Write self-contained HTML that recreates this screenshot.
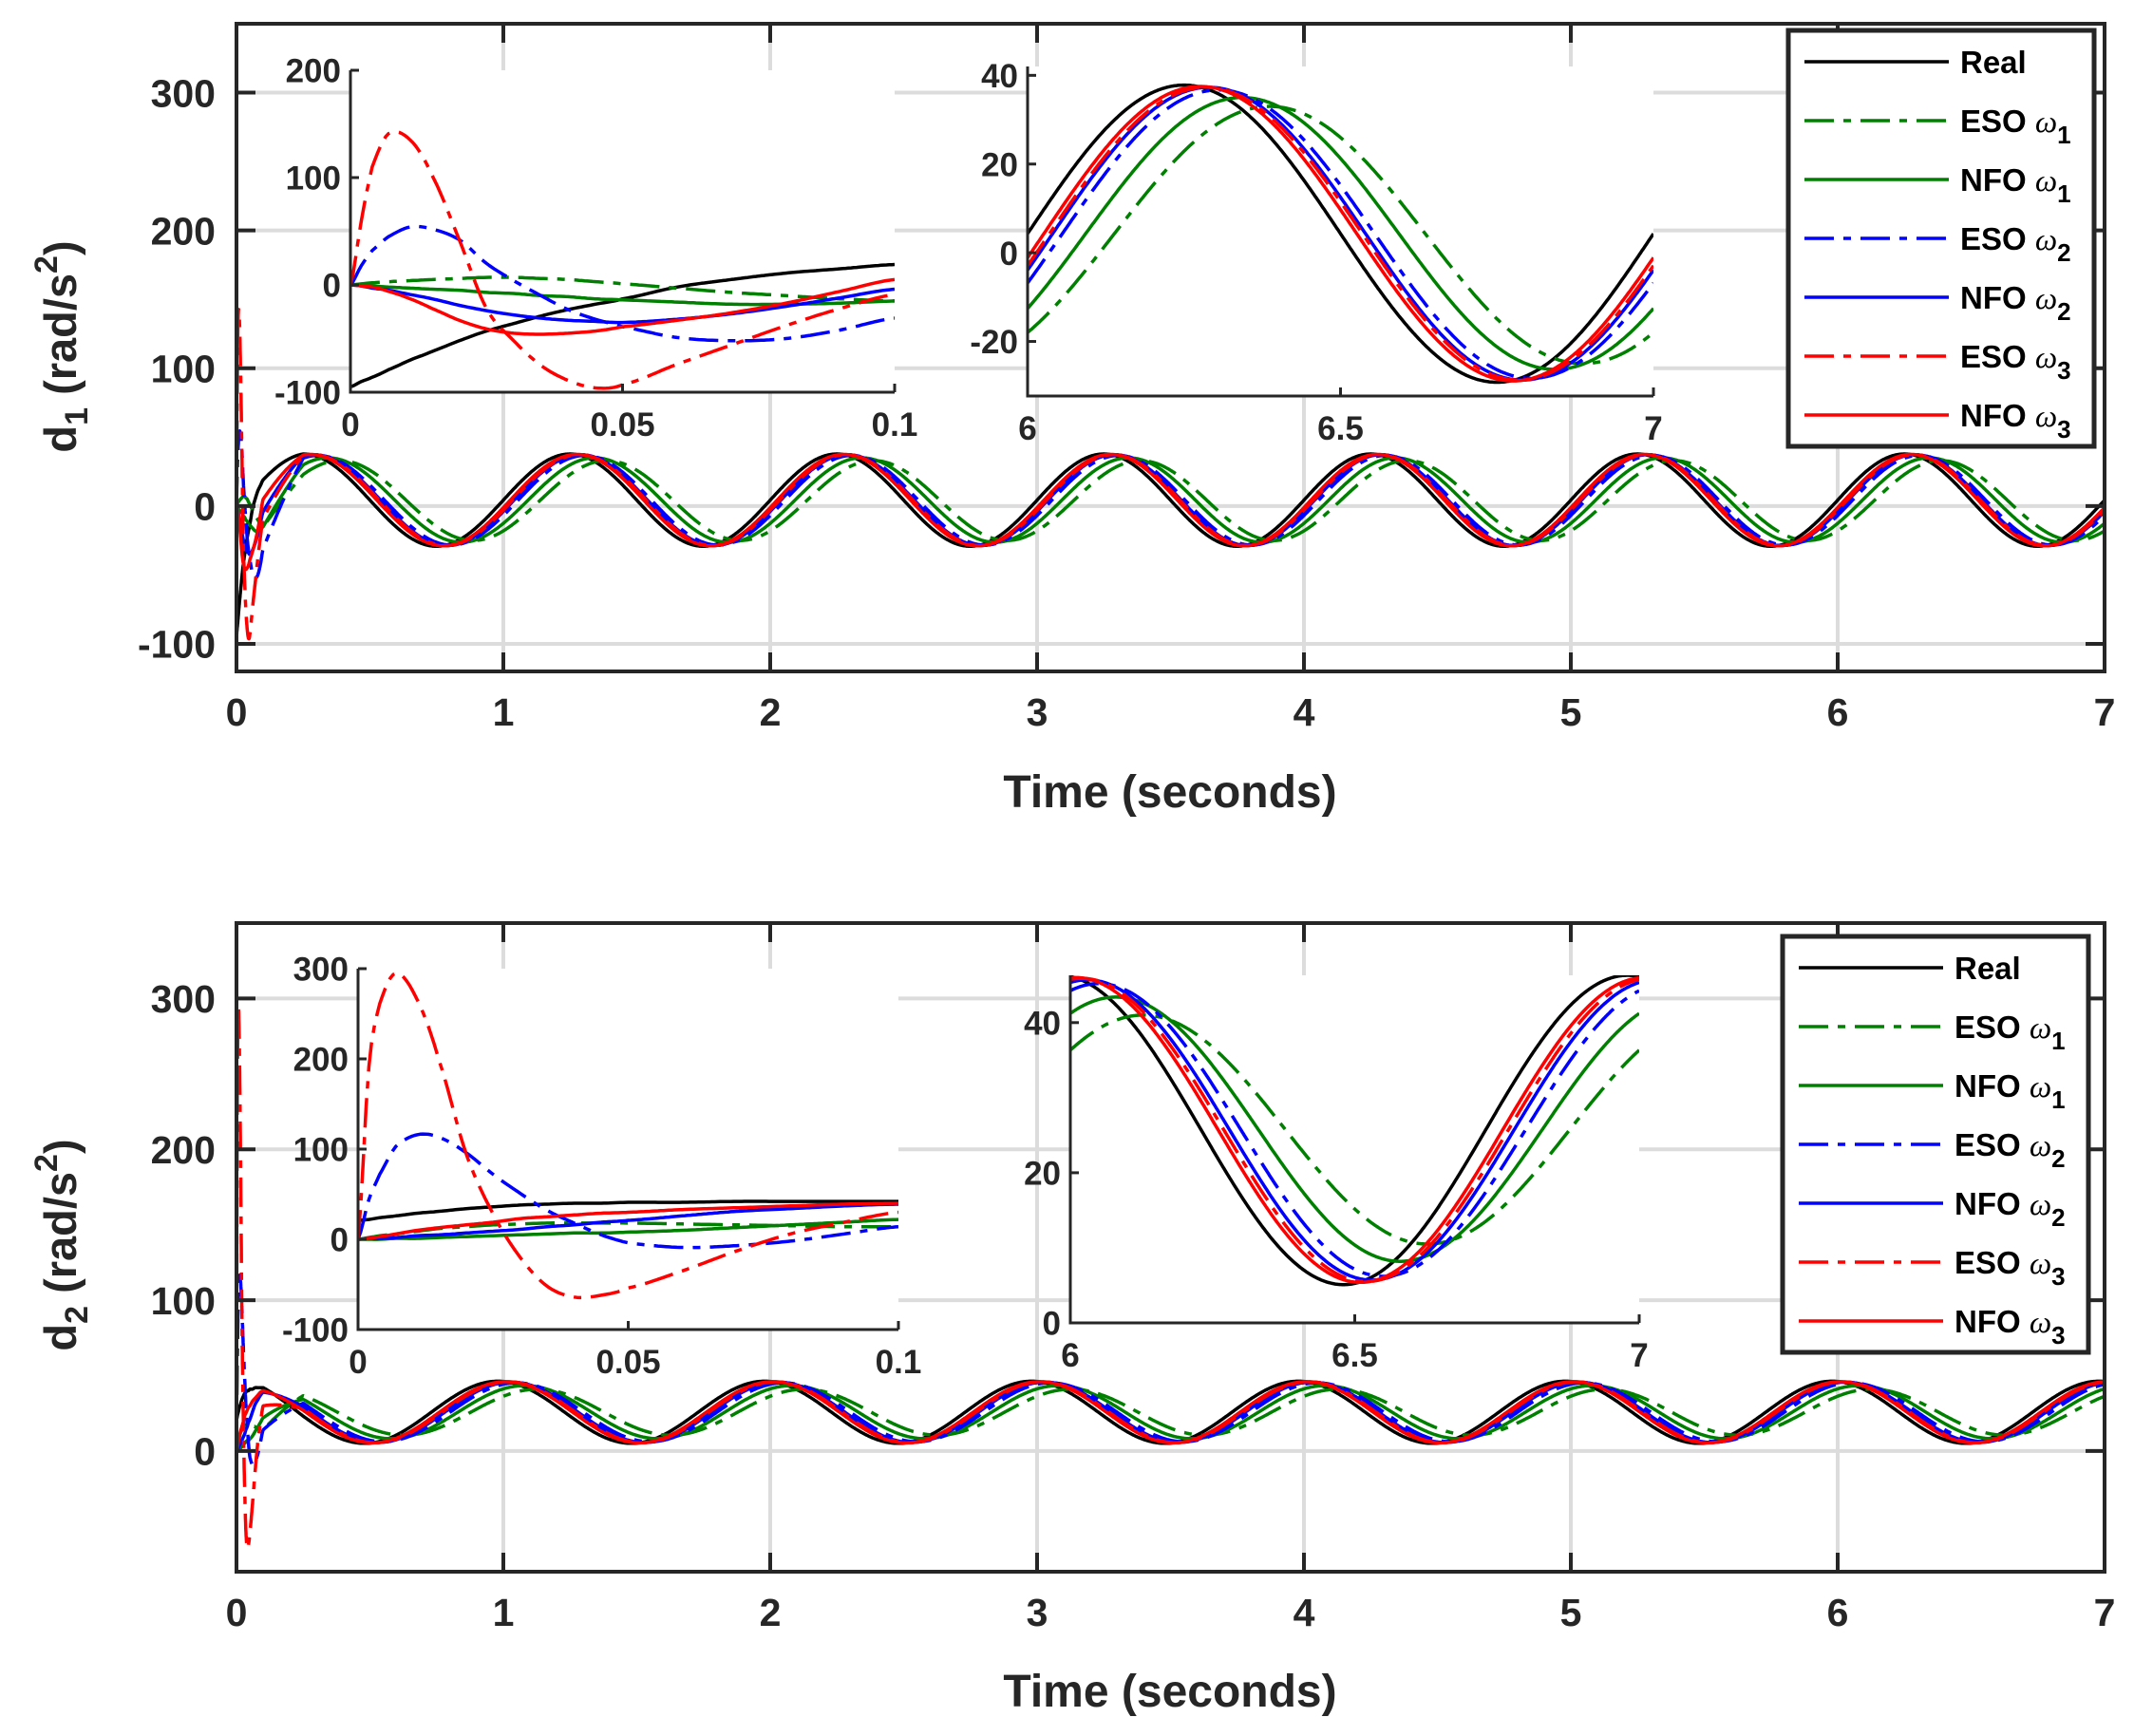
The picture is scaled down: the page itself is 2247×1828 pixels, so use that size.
<!DOCTYPE html>
<html><head><meta charset="utf-8"><title>Disturbance estimates d1, d2</title>
<style>
html,body{margin:0;padding:0;background:#fff;}
svg{display:block;font-family:"Liberation Sans",Arial,sans-serif;}
</style></head>
<body>
<svg id="fig" width="2247" height="1828" viewBox="0 0 2247 1828" xmlns="http://www.w3.org/2000/svg">
<rect x="0" y="0" width="2247" height="1828" fill="#fff"/>
<defs id="defs"></defs>
<g id="layer"></g>
</svg>
<script>
// ---------- data ----------
const seriesNames = ['Real','ESO ω1','NFO ω1','ESO ω2','NFO ω2','ESO ω3','NFO ω3'];
const transT = [0,0.002,0.004,0.007,0.011,0.015,0.02,0.025,0.03,0.035,0.04,0.045,0.05,0.06,0.07,0.08,0.09,0.1];
const d1TransReal = [-95,-90,-86,-79,-70,-62,-52,-43,-36,-29,-23,-18,-13,-2,5,11,15,19];
const d1TransEso1 = [0,1,2,3,4,5,6,7,7,6,5,3,1,-3,-7,-10,-13,-15];
const d1TransNfo1 = [0,-0.5,-1,-2,-3,-4,-5,-7,-8,-10,-11,-13,-14,-16,-18,-18,-17,-15];
const d1TransEso2 = [0,18,32,45,54,52,42,20,4,-10,-23,-32,-39,-49,-52,-50,-42,-31];
const d1TransNfo2 = [0,-1,-3,-5,-9,-13,-19,-24,-28,-31,-33,-34,-35,-32,-27,-20,-12,-4];
const d1TransEso3 = [0,60,110,141,135,102,42,-22,-52,-75,-89,-96,-93,-74,-56,-38,-22,-9];
const d1TransNfo3 = [0,-1,-2,-6,-13,-22,-33,-41,-45,-46,-45,-43,-39,-33,-26,-17,-6,5];
const d2TransReal = [21,22,24,26,29,31,34,36,38,39,40,40,41,41,42,42,42,42];
const d2TransEso1 = [0,2,4,6,9,12,14,16,17,18,18,18,18,17,16,15,14,14];
const d2TransNfo1 = [0,0,0,1,1,2,3,4,5,6,7,7,8,10,13,16,19,22];
const d2TransEso2 = [0,44,72,103,116,113,96,72,51,32,18,5,-4,-9,-7,-2,6,14];
const d2TransNfo2 = [0,1,1,2,4,5,7,9,11,14,16,19,21,26,31,34,37,39];
const d2TransEso3 = [0,191,261,295,265,198,95,28,-20,-52,-64,-62,-54,-35,-13,6,19,30];
const d2TransNfo3 = [0,1,3,6,10,13,16,19,23,25,27,29,30,33,35,37,39,40];
const d1Mean = [4.3, 4.0, 4.35, 4.2, 4.3, 4.3, 4.3];
const d1Amp  = [33.5, 29, 30.65, 32.5, 33, 33, 33.2];
const d1Peak = [0.25, 0.387, 0.343, 0.305, 0.29, 0.285, 0.276];
const d2Mean = [25.7, 25.75, 25.8, 25.7, 25.7, 25.7, 25.7];
const d2Amp  = [20.6, 15.25, 17.6, 19.5, 20, 20.2, 20.3];
const d2Peak = [0.98, 0.128, 0.08, 0.05, 0.03, 0.02, 0.01];
const mainXTicks = [0,1,2,3,4,5,6,7];
const top1YTicks = [-100,0,100,200,300];
const bot1YTicks = [0,100,200,300];
const insAXTicks = [0,0.05,0.1];
const insAXLabels = ['0','0.05','0.1'];
const insBXTicks = [6,6.5,7];
const insBXLabels = ['6','6.5','7'];
const topInsAYTicks = [-100,0,100,200];
const topInsBYTicks = [-20,0,20,40];
const botInsAYTicks = [-100,0,100,200,300];
const botInsBYTicks = [0,20,40];

const NS='http://www.w3.org/2000/svg';
const layer=document.getElementById('layer');
const defs=document.getElementById('defs');
function mk(tag,attrs,parent){const e=document.createElementNS(NS,tag);for(const k in attrs)e.setAttribute(k,attrs[k]);(parent||layer).appendChild(e);return e;}
const DASH='31 10 8 10';
const styles=[{c:'#000000',d:null},{c:'#008000',d:DASH},{c:'#008000',d:null},{c:'#0000ff',d:DASH},{c:'#0000ff',d:null},{c:'#ff0000',d:DASH},{c:'#ff0000',d:null}];
const AX='#262626';

function evalTrans(arr,t){
  const n=transT.length;
  if(t<=transT[0])return arr[0];
  if(t>=transT[n-1])return arr[n-1];
  let i=0;while(i<n-2&&t>transT[i+1])i++;
  const u=(t-transT[i])/(transT[i+1]-transT[i]);
  const p0=arr[Math.max(0,i-1)],p1=arr[i],p2=arr[i+1],p3=arr[Math.min(n-1,i+2)];
  const u2=u*u,u3=u2*u;
  return 0.5*((2*p1)+(-p0+p2)*u+(2*p0-5*p1+4*p2-p3)*u2+(-p0+3*p1-3*p2+p3)*u3);
}
function model(m,a,p,t){return m+a*Math.cos(2*Math.PI*(t-p));}
function evalSeries(trans,m,a,p,t){
  if(t<=0.1)return evalTrans(trans,t);
  const diff=trans[trans.length-1]-model(m,a,p,0.1);
  const w=Math.max(0,1-(t-0.1)/0.15);
  return model(m,a,p,t)+diff*w;
}
const d1Trans=[d1TransReal,d1TransEso1,d1TransNfo1,d1TransEso2,d1TransNfo2,d1TransEso3,d1TransNfo3];
const d2Trans=[d2TransReal,d2TransEso1,d2TransNfo1,d2TransEso2,d2TransNfo2,d2TransEso3,d2TransNfo3];

let clipId=0;
function axes(cfg){
  const g=mk('g',{});
  
  
  const sx=v=>cfg.x0+(v-cfg.xmin)/(cfg.xmax-cfg.xmin)*(cfg.x1-cfg.x0);
  const sy=v=>cfg.y1-(v-cfg.ymin)/(cfg.ymax-cfg.ymin)*(cfg.y1-cfg.y0);
  if(cfg.bg) mk('rect',{x:cfg.x0,y:cfg.y0,width:cfg.x1-cfg.x0,height:cfg.y1-cfg.y0,fill:'#fff'},g);
  if(cfg.grid){
    cfg.xt.forEach(v=>{const l=mk('line',{x1:sx(v),x2:sx(v),y1:cfg.y0,y2:cfg.y1,stroke:'#dcdcdc','stroke-width':4},g);
      });
    cfg.yt.forEach(v=>{const l=mk('line',{x1:cfg.x0,x2:cfg.x1,y1:sy(v),y2:sy(v),stroke:'#dcdcdc','stroke-width':4},g);
      });
  }
  const id='clip'+(clipId++);
  const cp=mk('clipPath',{id:id},defs);mk('rect',{x:cfg.x0,y:cfg.y0,width:cfg.x1-cfg.x0,height:cfg.y1-cfg.y0},cp);
  const pg=mk('g',{'clip-path':'url(#'+id+')'},g);
  for(let s=0;s<7;s++){
    let d='';
    cfg.times.forEach((t,k)=>{const v=cfg.f(s,t);d+=(k?'L':'M')+sx(t).toFixed(1)+' '+sy(v).toFixed(1);});
    const p=mk('path',{d:d,fill:'none',stroke:styles[s].c,'stroke-width':cfg.lw,'stroke-linejoin':'round'},pg);
    if(styles[s].d)p.setAttribute('stroke-dasharray',styles[s].d);
    
    
  }
  const aw=cfg.aw;
  if(cfg.box){
    const r=mk('rect',{x:cfg.x0,y:cfg.y0,width:cfg.x1-cfg.x0,height:cfg.y1-cfg.y0,fill:'none',stroke:AX,'stroke-width':aw},g);
    
  } else {
    const a1=mk('line',{x1:cfg.x0,x2:cfg.x0,y1:cfg.y0,y2:cfg.y1+aw/2,stroke:AX,'stroke-width':aw},g);
    
    const a2=mk('line',{x1:cfg.x0-aw/2,x2:cfg.x1,y1:cfg.y1,y2:cfg.y1,stroke:AX,'stroke-width':aw},g);
    
  }
  const tl=cfg.tl;
  cfg.xt.forEach((v,i)=>{
    mk('line',{x1:sx(v),x2:sx(v),y1:cfg.y1,y2:cfg.y1-tl,stroke:AX,'stroke-width':aw},g);
    if(cfg.box)mk('line',{x1:sx(v),x2:sx(v),y1:cfg.y0,y2:cfg.y0+tl,stroke:AX,'stroke-width':aw},g);
    const t=mk('text',{x:sx(v),y:cfg.y1+cfg.xlOff,'text-anchor':'middle','font-size':cfg.fs,'font-weight':'bold',fill:AX},g);
    t.textContent=cfg.xl?cfg.xl[i]:String(v);
    
  });
  cfg.yt.forEach(v=>{
    mk('line',{x1:cfg.x0,x2:cfg.x0+tl,y1:sy(v),y2:sy(v),stroke:AX,'stroke-width':aw},g);
    if(cfg.box)mk('line',{x1:cfg.x1,x2:cfg.x1-tl,y1:sy(v),y2:sy(v),stroke:AX,'stroke-width':aw},g);
    const t=mk('text',{x:cfg.x0-cfg.ylOff,y:sy(v)+cfg.fs*0.36,'text-anchor':'end','font-size':cfg.fs,'font-weight':'bold',fill:AX},g);
    t.textContent=String(v);
    
  });
  return g;
}
function range(a,b,dt){const r=[];for(let t=a;t<=b+1e-9;t+=dt)r.push(t);return r;}
const mainTimes=range(0,0.1,0.0005).concat(range(0.104,7,0.004));
const transTimes=range(0,0.1,0.0005);
const ssTimes=range(6,7,0.002);

function panel(prefix,trans,mean,amp,peak,P){
  axes({name:prefix+'-main',x0:249,x1:2216,y0:P.y0,y1:P.y1,xmin:0,xmax:7,ymin:P.ymin,ymax:P.ymax,
    xt:mainXTicks,yt:P.yt,grid:true,box:true,bg:false,lw:3.5,aw:4,tl:20,fs:41,xlOff:57,ylOff:22,
    times:mainTimes,f:(s,t)=>evalSeries(trans[s],mean[s],amp[s],peak[s],t)});
  axes({name:prefix+'-inset-transient',x0:P.ia.x0,x1:P.ia.x1,y0:P.ia.y0,y1:P.ia.y1,xmin:0,xmax:0.1,ymin:P.ia.ymin,ymax:P.ia.ymax,
    xt:insAXTicks,xl:insAXLabels,yt:P.ia.yt,grid:false,box:false,bg:true,lw:3.5,aw:3,tl:9,fs:35,xlOff:46,ylOff:10,
    times:transTimes,f:(s,t)=>evalTrans(trans[s],t)});
  axes({name:prefix+'-inset-steady',x0:P.ib.x0,x1:P.ib.x1,y0:P.ib.y0,y1:P.ib.y1,xmin:6,xmax:7,ymin:P.ib.ymin,ymax:P.ib.ymax,
    xt:insBXTicks,xl:insBXLabels,yt:P.ib.yt,grid:false,box:false,bg:true,lw:3.5,aw:3,tl:9,fs:35,xlOff:46,ylOff:10,
    times:ssTimes,f:(s,t)=>model(mean[s],amp[s],peak[s],t)});
  const xt=mk('text',{x:1232,y:P.xlabY,'text-anchor':'middle','font-size':48,'font-weight':'bold',fill:AX});
  xt.textContent='Time (seconds)';
  
  const yt=mk('text',{x:0,y:0,'text-anchor':'middle','font-size':47,'font-weight':'bold',fill:AX,transform:'translate(80,'+P.ylabY+') rotate(-90)'});
  yt.innerHTML='d<tspan font-size="34" dy="12">'+P.sub+'</tspan><tspan dy="-12"> (rad/s</tspan><tspan font-size="34" dy="-20">2</tspan><tspan dy="20">)</tspan>';
  
  const lg=mk('g',{});
  
  const bx=P.lx,by=P.ly;
  mk('rect',{x:bx,y:by,width:322,height:438,fill:'#fff',stroke:AX,'stroke-width':5},lg);
  for(let s=0;s<7;s++){
    const cy=by+33+s*62;
    const e=mk('g',{},lg);
    
    
    const l=mk('line',{x1:bx+17,x2:bx+169,y1:cy,y2:cy,stroke:styles[s].c,'stroke-width':3.5},e);
    if(styles[s].d)l.setAttribute('stroke-dasharray',styles[s].d);
    const t=mk('text',{x:bx+181,y:cy+12,'font-size':33,'font-weight':'bold',fill:'#000'},e);
    if(s===0)t.textContent='Real';
    else{
      const parts=seriesNames[s].split(' ω');
      t.innerHTML=parts[0]+' <tspan font-style="italic" font-weight="normal" font-family="Liberation Serif, serif">ω</tspan><tspan font-size="26" dy="12">'+parts[1]+'</tspan>';
    }
  }
}

panel('d1',d1Trans,d1Mean,d1Amp,d1Peak,{y0:25,y1:707,ymin:-120,ymax:350,yt:top1YTicks,
  ia:{x0:369,x1:942,y0:74,y1:413,ymin:-100,ymax:200,yt:topInsAYTicks},
  ib:{x0:1082,x1:1741,y0:70,y1:417,ymin:-32.3,ymax:42,yt:topInsBYTicks},
  xlabY:850,ylabY:365,sub:'1',lx:1883,ly:32});
panel('d2',d2Trans,d2Mean,d2Amp,d2Peak,{y0:972,y1:1655,ymin:-80,ymax:350,yt:bot1YTicks,
  ia:{x0:377,x1:946,y0:1020,y1:1400,ymin:-100,ymax:300,yt:botInsAYTicks},
  ib:{x0:1127,x1:1726,y0:1027,y1:1393,ymin:0,ymax:46.3,yt:botInsBYTicks},
  xlabY:1797,ylabY:1311,sub:'2',lx:1877,ly:986});
</script>
</body></html>
